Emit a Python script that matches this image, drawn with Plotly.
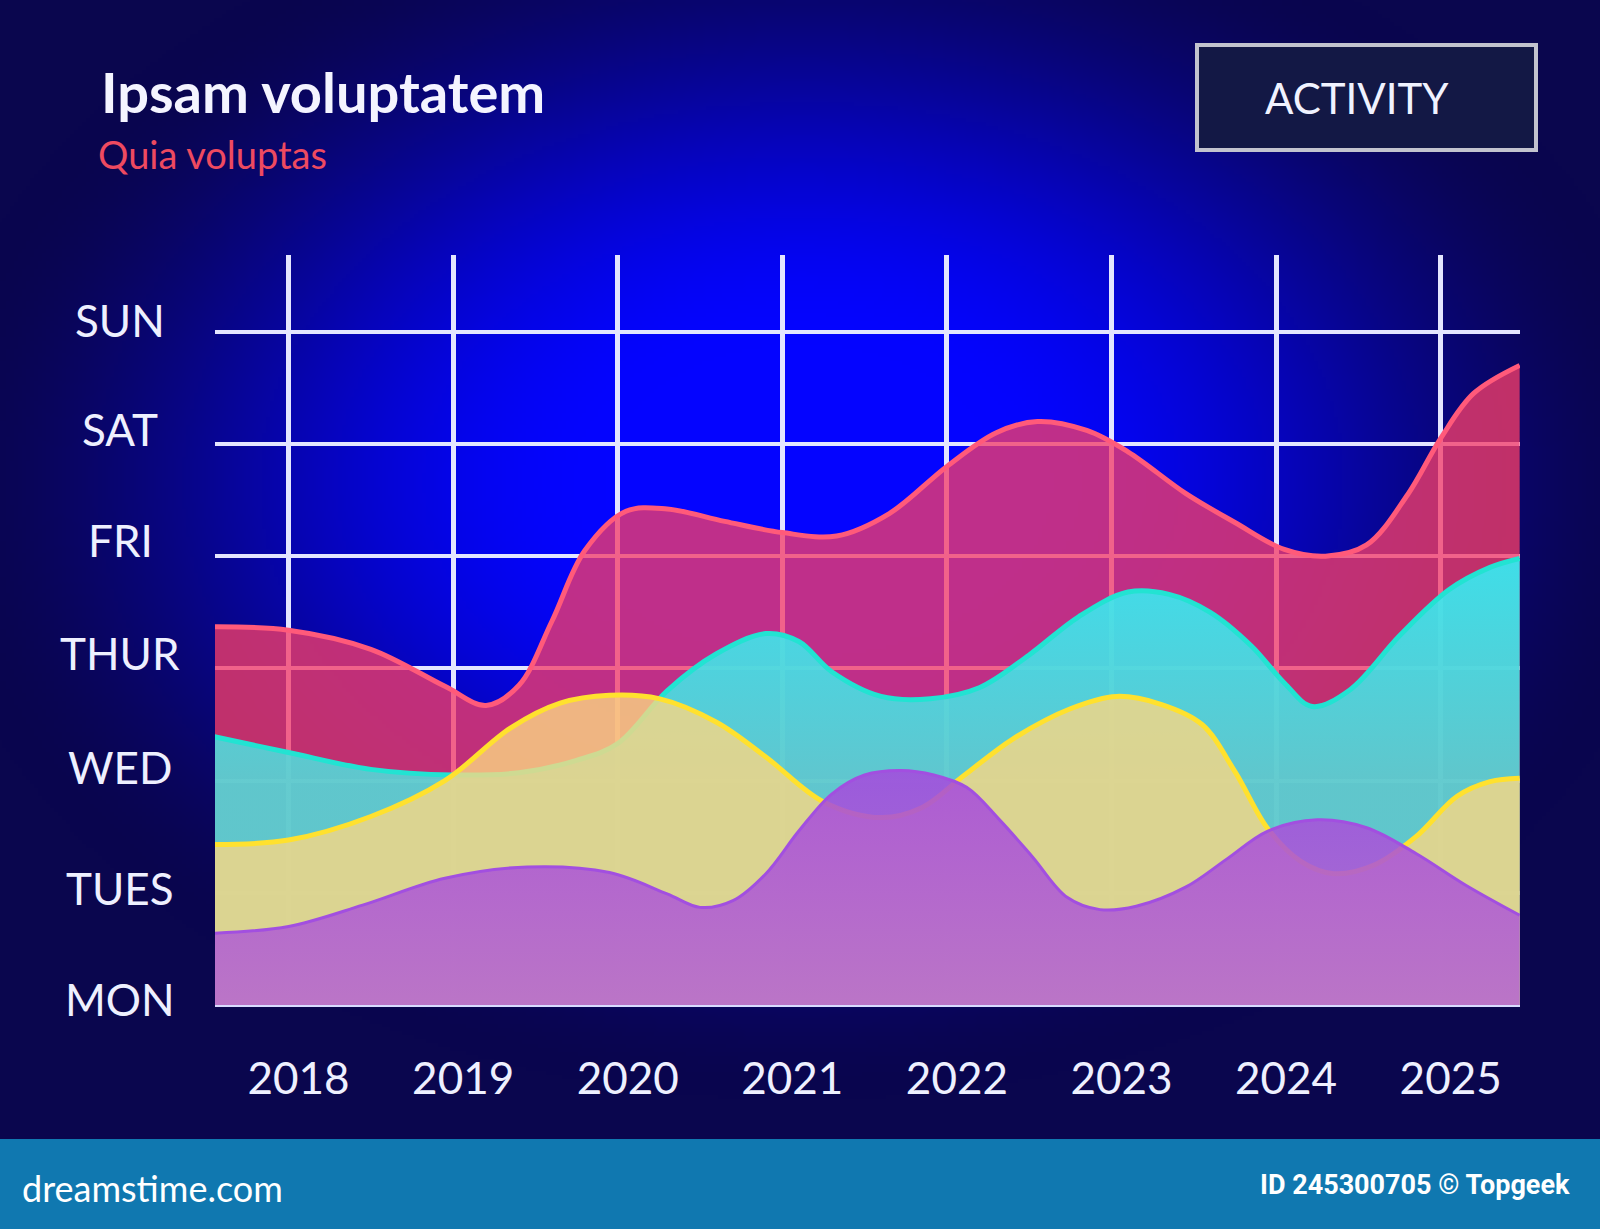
import zlib, struct, base64
import numpy as np
import plotly.graph_objects as go

# ---------------- data ----------------
years = [2018, 2019, 2020, 2021, 2022, 2023, 2024, 2025]
days = ["MON", "TUES", "WED", "THUR", "FRI", "SAT", "SUN"]

pink_x = [2017.55, 2018.0, 2018.5, 2018.95, 2019.2, 2019.4, 2019.6, 2019.8, 2020.05, 2020.3,
          2020.65, 2021.0, 2021.33, 2021.65, 2022.0, 2022.3, 2022.55, 2022.85, 2023.1, 2023.45,
          2023.75, 2024.05, 2024.3, 2024.55, 2024.8, 2025.0, 2025.2, 2025.48]
pink_y = [3.37, 3.34, 3.17, 2.84, 2.67, 2.85, 3.42, 4.05, 4.40, 4.42,
          4.31, 4.21, 4.18, 4.38, 4.80, 5.10, 5.20, 5.12, 4.93, 4.56,
          4.30, 4.06, 4.00, 4.10, 4.55, 5.05, 5.45, 5.70]

cyan_x = [2017.55, 2018.0, 2018.5, 2019.0, 2019.4, 2019.75, 2020.0, 2020.3, 2020.6, 2020.9,
          2021.1, 2021.3, 2021.6, 2021.9, 2022.2, 2022.5, 2022.8, 2023.1, 2023.35, 2023.6,
          2023.85, 2024.05, 2024.22, 2024.45, 2024.75, 2025.05, 2025.3, 2025.48]
cyan_y = [2.39, 2.25, 2.10, 2.05, 2.07, 2.18, 2.33, 2.80, 3.13, 3.31,
          3.24, 2.97, 2.75, 2.73, 2.83, 3.12, 3.46, 3.68, 3.66, 3.50,
          3.20, 2.87, 2.66, 2.81, 3.29, 3.70, 3.90, 3.98]

yellow_x = [2017.55, 2018.0, 2018.5, 2018.95, 2019.35, 2019.65, 2019.95, 2020.25, 2020.6, 2020.9,
            2021.25, 2021.6, 2021.85, 2022.1, 2022.4, 2022.75, 2023.03, 2023.3, 2023.55, 2023.75,
            2023.95, 2024.15, 2024.35, 2024.6, 2024.85, 2025.1, 2025.3, 2025.48]
yellow_y = [1.43, 1.47, 1.68, 2.00, 2.47, 2.69, 2.76, 2.73, 2.52, 2.21,
            1.81, 1.67, 1.76, 2.04, 2.37, 2.64, 2.75, 2.68, 2.50, 2.08,
            1.57, 1.28, 1.17, 1.25, 1.50, 1.86, 1.99, 2.02]

purple_x = [2017.55, 2018.0, 2018.45, 2018.95, 2019.45, 2019.95, 2020.3, 2020.5, 2020.7, 2020.9,
            2021.1, 2021.3, 2021.5, 2021.72, 2021.92, 2022.12, 2022.32, 2022.52, 2022.73, 2022.93,
            2023.15, 2023.45, 2023.7, 2023.95, 2024.25, 2024.55, 2024.85, 2025.15, 2025.48]
purple_y = [0.64, 0.70, 0.89, 1.13, 1.23, 1.18, 0.99, 0.87, 0.93, 1.17,
            1.55, 1.88, 2.05, 2.09, 2.05, 1.94, 1.65, 1.32, 0.96, 0.85,
            0.88, 1.05, 1.30, 1.55, 1.65, 1.58, 1.35, 1.07, 0.80]

title_text = "Ipsam voluptatem"
subtitle_text = "Quia voluptas"
badge_text = "ACTIVITY"
footer_left = "dreamstime.com"
footer_right = "ID 245300705 © Topgeek"

# ---------------- styling ----------------
W, H = 1600, 1229
X_RANGE = [2017.553, 2025.482]
Y_RANGE = [0, 6.684]
X_DOMAIN = [215 / W, 1520 / W]
Y_DOMAIN = [1 - 1005 / H, 1 - 255 / H]
label_lift = {"MON": 6, "TUES": 5, "WED": 14, "THUR": 15, "FRI": 16, "SAT": 15, "SUN": 12}
FONT = "Lato"


def background_uri(w=400, h=308):
    yy, xx = np.mgrid[0:h, 0:w].astype(float)
    px = xx * W / w
    py = yy * H / h
    d = np.sqrt(((px - 800) / 800) ** 2 + ((py - 480) / 560) ** 2)
    t = np.clip((d - 0.25) / 0.85, 0, 1)
    f = 1 - t * t * (3 - 2 * t)
    navy = np.array([10, 6, 78], float)
    bright = np.array([4, 4, 255], float)
    img = navy[None, None, :] + (bright - navy)[None, None, :] * f[..., None]
    arr = np.clip(img, 0, 255).astype(np.uint8)
    raw = b"".join(b"\x00" + arr[i].tobytes() for i in range(h))

    def chunk(tag, dat):
        c = struct.pack(">I", len(dat)) + tag + dat
        return c + struct.pack(">I", zlib.crc32(tag + dat) & 0xFFFFFFFF)

    png = (b"\x89PNG\r\n\x1a\n"
           + chunk(b"IHDR", struct.pack(">IIBBBBB", w, h, 8, 2, 0, 0, 0))
           + chunk(b"IDAT", zlib.compress(raw, 9))
           + chunk(b"IEND", b""))
    return "data:image/png;base64," + base64.b64encode(png).decode()


series = [
    (pink_x, pink_y, "#ff5a7a", 5, "rgba(245,60,105,0.78)", None),
    (cyan_x, cyan_y, "#22e3d2", 5, None,
     dict(type="vertical", start=2.0, stop=3.9,
          colorscale=[[0, "rgba(85,215,215,0.9)"], [1, "rgba(50,240,245,0.9)"]])),
    (yellow_x, yellow_y, "#ffe12e", 5, "rgba(250,215,130,0.80)", None),
    (purple_x, purple_y, "#a24fe0", 3, None,
     dict(type="vertical", start=0.0, stop=2.1,
          colorscale=[[0, "rgba(182,104,206,0.88)"], [1, "rgba(165,72,222,0.86)"]])),
]

fig = go.Figure()
for xs, ys, lc, lw, fc, grad in series:
    kw = dict(fillgradient=grad) if grad else dict(fillcolor=fc)
    fig.add_trace(go.Scatter(
        x=xs, y=ys, mode="lines", fill="tozeroy",
        line=dict(color=lc, width=lw, shape="spline", smoothing=1.0),
        hoverinfo="skip", showlegend=False, **kw,
    ))

annotations = []
for i, d in enumerate(days):
    annotations.append(dict(
        x=120 / W, xref="paper", y=i, yref="y", yshift=label_lift[d],
        text=d, showarrow=False, xanchor="center", yanchor="middle",
        font=dict(family=FONT, size=44, color="#eef0ff"),
    ))

annotations += [
    dict(x=99 / W, y=1 - 92 / H, xref="paper", yref="paper", text=f"<b>{title_text}</b>",
         showarrow=False, xanchor="left", yanchor="middle",
         font=dict(family=FONT, size=56, color="#f4f4ff")),
    dict(x=96 / W, y=1 - 154 / H, xref="paper", yref="paper", text=subtitle_text,
         showarrow=False, xanchor="left", yanchor="middle",
         font=dict(family=FONT, size=38, color="#ee4a60")),
    dict(x=1357 / W, y=1 - 98 / H, xref="paper", yref="paper", text=badge_text,
         showarrow=False, xanchor="center", yanchor="middle",
         font=dict(family=FONT, size=42, color="#f0f2ff")),
    dict(x=20 / W, y=1 - 1188 / H, xref="paper", yref="paper", text=footer_left,
         showarrow=False, xanchor="left", yanchor="middle",
         font=dict(family=FONT, size=36, color="#ffffff")),
    dict(x=1572 / W, y=1 - 1185 / H, xref="paper", yref="paper", text=f"<b>{footer_right}</b>",
         showarrow=False, xanchor="right", yanchor="middle",
         font=dict(family="Roboto", size=27, color="#ffffff")),
]

shapes = [
    dict(type="rect", xref="paper", yref="paper", x0=1197 / W, x1=1536 / W,
         y0=1 - 150 / H, y1=1 - 45 / H, line=dict(color="#c2c3ce", width=4),
         fillcolor="#131845", layer="above"),
    dict(type="rect", xref="paper", yref="paper", x0=0, x1=1, y0=0, y1=1 - 1139 / H,
         line=dict(width=0), fillcolor="#1078b0", layer="above"),
]

fig.update_layout(
    width=W, height=H,
    margin=dict(l=0, r=0, t=0, b=0),
    paper_bgcolor="#0a0650",
    plot_bgcolor="rgba(0,0,0,0)",
    images=[dict(source=background_uri(), xref="paper", yref="paper", x=0, y=1,
                 sizex=1, sizey=1, xanchor="left", yanchor="top",
                 sizing="stretch", layer="below")],
    annotations=annotations,
    shapes=shapes,
    xaxis=dict(
        domain=X_DOMAIN, range=X_RANGE, tickvals=years, ticktext=[str(y) for y in years],
        showgrid=True, gridcolor="#e4e6ff", gridwidth=4.5, zeroline=False,
        showline=True, linecolor="#d8dcff", linewidth=2, ticks="",
        tickfont=dict(family=FONT, size=44, color="#eef0ff"),
        ticklabelstandoff=34, ticklabelshift=10, fixedrange=True,
    ),
    yaxis=dict(
        domain=Y_DOMAIN, range=Y_RANGE, tickvals=list(range(len(days))),
        showgrid=True, gridcolor="#e4e6ff", gridwidth=4, zeroline=False,
        showticklabels=False, ticks="", fixedrange=True,
    ),
)

fig.write_html(
    "out.html",
    config={"displayModeBar": False},
    post_script="document.body.style.margin='0';document.body.style.padding='0';"
                "document.body.style.background='#0a0650';",
)
